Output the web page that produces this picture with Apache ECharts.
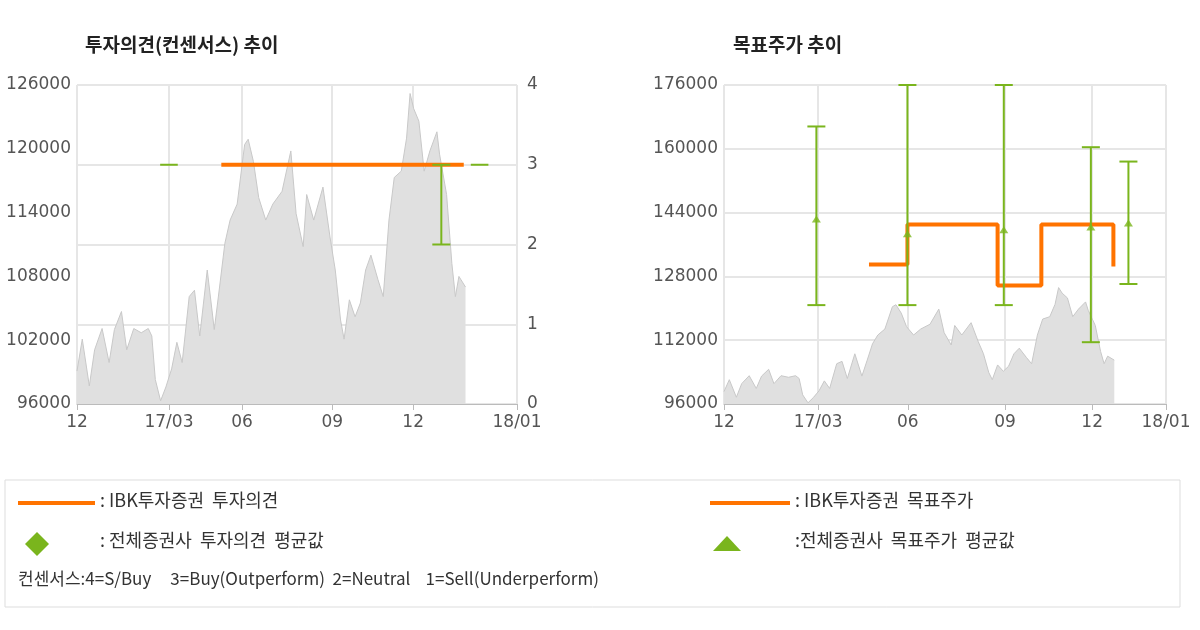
<!DOCTYPE html>
<html><head><meta charset="utf-8">
<script src="https://cdn.jsdelivr.net/npm/echarts@6/dist/echarts.min.js"></script>
<style>body{margin:0;background:#fff}#c{width:1200px;height:630px}</style></head>
<body><div id="c"></div>
<script>
// x positions are in percent of the date axis span (Dec 2016 .. Jan 2018)
const xTickLabels = ['12','17/03','06','09','12','18/01'];
const xTicksLeft = [0,20.9,37.5,58,76.4,100];
const xTicksRight = [0,21.3,41.6,63.6,83.3,100];
const priceX = [0,1.2,2.8,4.0,5.7,7.3,8.5,10.1,11.3,12.9,14.6,16.2,17.0,17.8,19.0,20.2,21.5,22.7,23.9,25.5,26.7,27.9,29.6,31.2,32.4,33.6,34.8,36.4,38.1,38.9,40.1,41.3,42.9,44.5,46.6,48.6,49.8,51.4,52.2,53.8,55.9,57.5,58.7,59.9,60.7,61.9,63.2,64.4,65.6,66.8,68.4,69.6,70.9,72.1,73.7,74.9,75.7,76.5,77.7,78.9,80.2,81.8,82.4,84.0,85.2,86.0,86.8,88.3];
const price = [99.1,102.1,97.7,101.1,103.1,99.9,103.0,104.7,101.1,103.1,102.7,103.1,102.4,98.3,96.3,97.6,99.3,101.8,99.9,106.1,106.7,102.4,108.6,103.0,107.0,111.1,113.3,114.8,120.4,120.9,118.8,115.4,113.3,114.8,116.0,119.8,113.9,110.8,115.7,113.3,116.4,111.7,108.6,103.9,102.1,105.8,104.2,105.5,108.6,110.0,107.7,106.1,113.3,117.3,117.9,121.0,125.2,123.8,122.6,117.9,119.8,121.6,119.5,115.7,109.2,106.1,108.0,107.0].map(v=>v*1000);
// consensus (left chart, right axis 0-4)
const ibkOpinion = [[32.8,3],[87.9,3]];
const avgOpinionDash = [[[18.9,3],[22.9,3]],[[89.5,3],[93.5,3]]];
const opinionRange = [[82.8,2,3]];
// target price (right chart)
const ibkTarget = [[32.8,131000],[41.5,141000],[61.9,125700],[71.8,141000],[88.1,141000],[88.1,130500]];
const targetX = [20.9,41.5,63.3,83.0,91.5];
const targetHigh = [165600,176000,176000,160400,156800];
const targetLow = [120800,120800,120800,111500,126100];
const targetAvg = [142400,138700,139700,140400,141400];

const FONT = '"Noto Sans CJK KR", sans-serif';
const GREEN = '#7ab51d', ORANGE = '#ff7300', GRID = '#e6e6e6';
const lbl = {color:'#555', fontSize:17, fontFamily:'"DejaVu Sans", sans-serif', formatter:v=>String(v)};
function fmtX(ticks){return v=>{let i=0,d=1e9;ticks.forEach((t,k)=>{if(Math.abs(t-v)<d){d=Math.abs(t-v);i=k;}});return xTickLabels[i];};}
function xAxis(ticks,gi){return {type:'value',gridIndex:gi,min:0,max:100,
  axisLine:{lineStyle:{color:'#bbb'}},axisTick:{customValues:ticks,lineStyle:{color:'#bbb'},length:6},
  axisLabel:Object.assign({},lbl,{customValues:ticks,formatter:fmtX(ticks),margin:10}),
  splitLine:{show:true,lineStyle:{color:GRID,width:2}}};}
function errBar(xi, yi, data){
  return {type:'custom',xAxisIndex:xi,yAxisIndex:yi,z:5,data:data,
    renderItem:(p,api)=>{const x=api.value(0);const a=api.coord([x,api.value(1)]),b=api.coord([x,api.value(2)]);
      const w=9;const st={stroke:GREEN,lineWidth:2};
      return {type:'group',children:[
        {type:'line',shape:{x1:a[0],y1:a[1],x2:b[0],y2:b[1]},style:st},
        {type:'line',shape:{x1:a[0]-w,y1:a[1],x2:a[0]+w,y2:a[1]},style:st},
        {type:'line',shape:{x1:b[0]-w,y1:b[1],x2:b[0]+w,y2:b[1]},style:st}]};}};
}
const priceData = priceX.map((x,i)=>[x,price[i]]);
const chart = echarts.init(document.getElementById('c'));
chart.setOption({
  animation:false,
  title:[{text:'투자의견(컨센서스) 추이',left:80,top:30,textStyle:{fontFamily:FONT,fontSize:19,fontWeight:'bold',color:'#222'}},
         {text:'목표주가 추이',left:728,top:30,textStyle:{fontFamily:FONT,fontSize:19,fontWeight:'bold',color:'#222'}}],
  grid:[{left:77,right:683,top:85,bottom:226,show:true,borderColor:'#ccc',borderWidth:1},
        {left:724,right:34,top:85,bottom:226,show:true,borderColor:'#ccc',borderWidth:1}],
  xAxis:[xAxis(xTicksLeft,0),xAxis(xTicksRight,1)],
  yAxis:[
    {type:'value',gridIndex:0,min:96000,max:126000,interval:6000,axisLabel:Object.assign({},lbl,{margin:6}),
      axisLine:{show:false},axisTick:{show:false},splitLine:{show:false}},
    {type:'value',gridIndex:0,position:'right',min:0,max:4,interval:1,axisLabel:Object.assign({},lbl,{margin:10}),
      axisLine:{show:false},axisTick:{show:false},splitLine:{show:true,lineStyle:{color:GRID,width:2}}},
    {type:'value',gridIndex:1,min:96000,max:176000,interval:16000,axisLabel:Object.assign({},lbl,{margin:6}),
      axisLine:{show:false},axisTick:{show:false},splitLine:{show:true,lineStyle:{color:GRID,width:2}}}],
  series:[
    {type:'line',xAxisIndex:0,yAxisIndex:0,data:priceData,symbol:'none',lineStyle:{color:'#c8c8c8',width:1},areaStyle:{color:'#e0e0e0',opacity:1}},
    {type:'line',xAxisIndex:0,yAxisIndex:1,data:ibkOpinion,symbol:'none',lineStyle:{color:ORANGE,width:4},z:4},
    ...avgOpinionDash.map(d=>({type:'line',xAxisIndex:0,yAxisIndex:1,data:d,symbol:'none',lineStyle:{color:GREEN,width:2},z:4})),
    errBar(0,1,opinionRange),
    {type:'line',xAxisIndex:1,yAxisIndex:2,data:priceData,symbol:'none',lineStyle:{color:'#c8c8c8',width:1},areaStyle:{color:'#e0e0e0',opacity:1}},
    {type:'line',xAxisIndex:1,yAxisIndex:2,data:ibkTarget,step:'end',symbol:'none',lineStyle:{color:ORANGE,width:4},z:4},
    errBar(1,2,targetX.map((x,i)=>[x,targetHigh[i],targetLow[i]])),
    {type:'scatter',xAxisIndex:1,yAxisIndex:2,data:targetX.map((x,i)=>[x,targetAvg[i]]),symbol:'triangle',symbolSize:[9,7],itemStyle:{color:GREEN},z:6}
  ],
  graphic:[
    {type:'rect',shape:{x:5,y:480,width:1175,height:127},style:{fill:'#fff',stroke:'#ddd',lineWidth:1}},
    {type:'line',shape:{x1:18,y1:503,x2:95,y2:503},style:{stroke:ORANGE,lineWidth:4}},
    {type:'text',left:100,top:491,style:{text:': IBK투자증권  투자의견',font:'18px '+FONT,fill:'#333'}},
    {type:'polygon',shape:{points:[[37,532],[49,544],[37,556],[25,544]]},style:{fill:GREEN}},
    {type:'text',left:100,top:531,style:{text:': 전체증권사  투자의견  평균값',font:'18px '+FONT,fill:'#333'}},
    {type:'text',left:18,top:570,style:{text:'컨센서스:4=S/Buy     3=Buy(Outperform)  2=Neutral    1=Sell(Underperform)',font:'17px '+FONT,fill:'#333'}},
    {type:'line',shape:{x1:710,y1:503,x2:790,y2:503},style:{stroke:ORANGE,lineWidth:4}},
    {type:'text',left:795,top:491,style:{text:': IBK투자증권  목표주가',font:'18px '+FONT,fill:'#333'}},
    {type:'polygon',shape:{points:[[727,536],[741,551],[713,551]]},style:{fill:GREEN}},
    {type:'text',left:795,top:531,style:{text:':전체증권사  목표주가  평균값',font:'18px '+FONT,fill:'#333'}}
  ]
});
</script></body></html>
